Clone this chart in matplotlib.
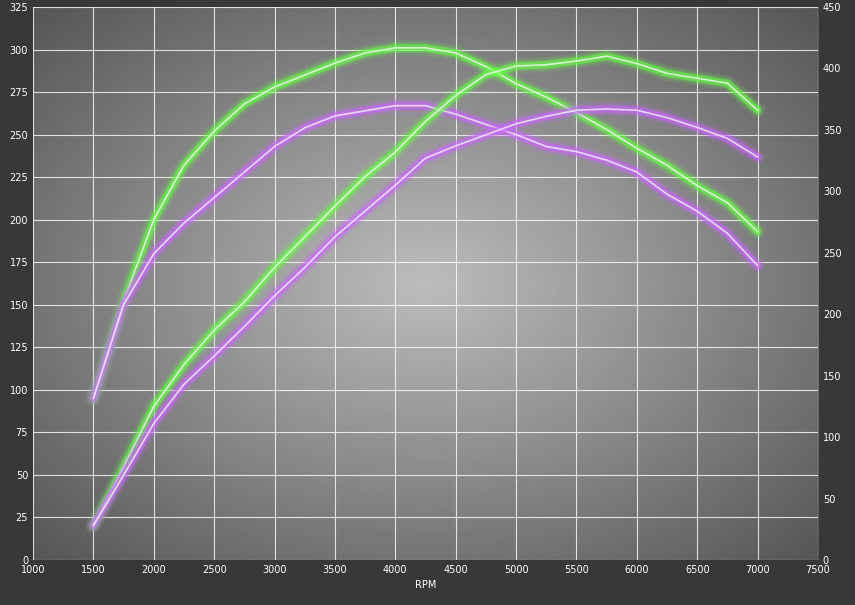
import numpy as np
import matplotlib
matplotlib.use("Agg")
import matplotlib.pyplot as plt

rpm = [1500, 1750, 2000, 2250, 2500, 2750, 3000, 3250, 3500, 3750, 4000, 4250,
       4500, 4750, 5000, 5250, 5500, 5750, 6000, 6250, 6500, 6750, 7000]
# torque, left axis
tq_mod = [95, 152, 200, 232, 252, 268, 278, 285, 292, 298, 301, 301,
          298, 290, 280, 272, 263, 253, 242, 232, 220, 210, 193]
tq_stock = [95, 150, 180, 198, 213, 228, 243, 254, 261, 264, 267, 267,
            262, 256, 250, 243, 240, 235, 228, 215, 205, 192, 173]
# power, right axis
hp_mod = [28, 76, 125, 159, 187, 210, 238, 263, 288, 312, 332, 357,
          378, 395, 402, 403, 406, 410, 404, 396, 392, 388, 366]
hp_stock = [28, 69, 111, 143, 166, 190, 215, 238, 263, 284, 305, 327,
            337, 346, 355, 361, 366, 367, 366, 360, 352, 343, 328]

fig = plt.figure(figsize=(8.55, 6.05), dpi=100, facecolor="#383838")
ax = fig.add_axes([33 / 855, 45 / 605, 785 / 855, 553 / 605])
ax2 = ax.twinx()

# radial gradient background
yy, xx = np.mgrid[-1:1:300j, -1:1:400j]
r = np.sqrt(xx ** 2 + yy ** 2)
bg = 0.74 - 0.40 * np.clip(r / 1.4, 0, 1)
ax.imshow(bg, cmap="gray", vmin=0, vmax=1, extent=(1000, 7500, 0, 325),
          aspect="auto", zorder=0)

def glow(a, x, y, color):
    for lw, al in [(11, 0.12), (7.5, 0.25), (5, 0.55)]:
        a.plot(x, y, color=color, lw=lw, alpha=al, solid_capstyle="round",
               solid_joinstyle="round")
    a.plot(x, y, color="white", lw=1.2, alpha=0.7, solid_joinstyle="round")

glow(ax, rpm, tq_mod, "#66ff44")
glow(ax, rpm, tq_stock, "#cc66ff")
glow(ax2, rpm, hp_mod, "#66ff44")
glow(ax2, rpm, hp_stock, "#cc66ff")

ax.set_xlim(1000, 7500)
ax.set_ylim(0, 325)
ax2.set_ylim(0, 450)
ax.set_xticks(range(1000, 7501, 500))
ax.set_yticks(range(0, 326, 25))
ax2.set_yticks(range(0, 451, 50))
ax.grid(True, color="white", lw=0.8, alpha=0.8)
for a in (ax, ax2):
    a.tick_params(colors="white", labelsize=7, length=0)
    for s in a.spines.values():
        s.set_visible(False)
ax.set_xlabel("RPM", color="white", fontsize=7)

fig.savefig("out.png", dpi=100, facecolor=fig.get_facecolor())
